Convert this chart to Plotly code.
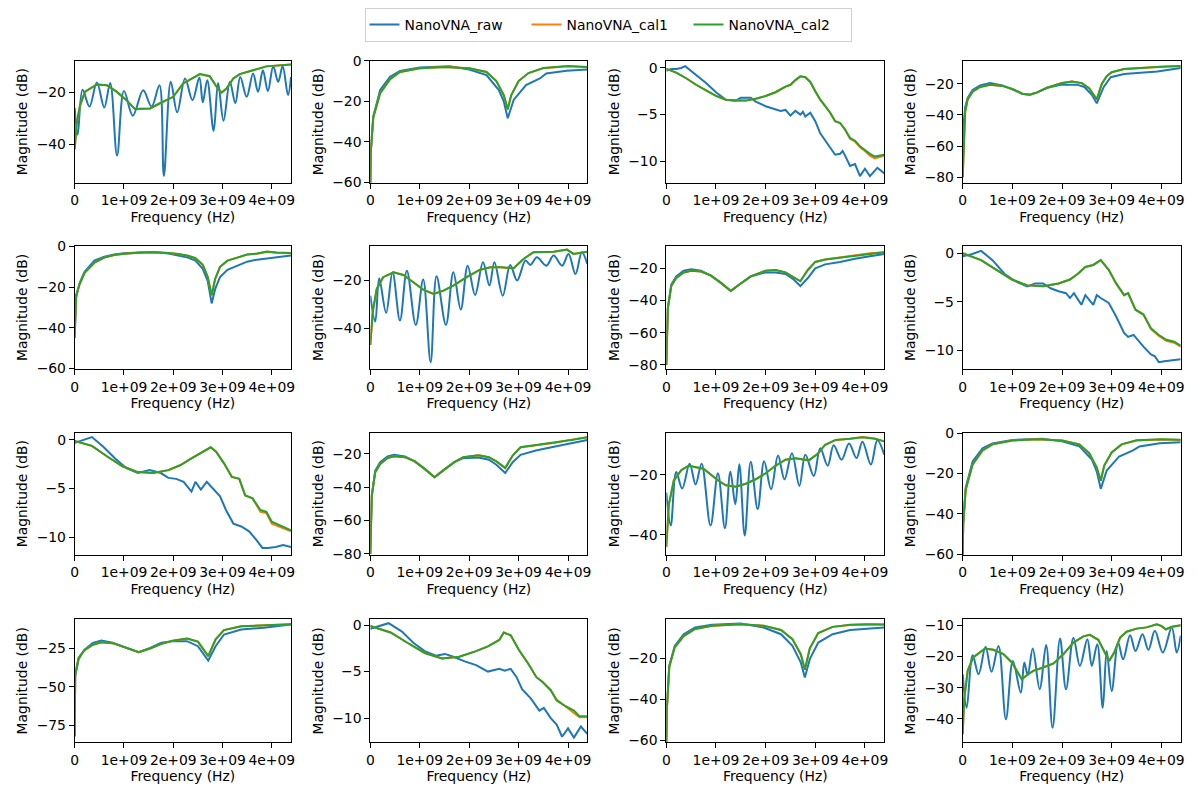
import plotly.graph_objects as go

# ---------------- data (frequency in GHz, magnitude in dB) ----------------
TICK_F_HZ = [0, 1e9, 2e9, 3e9, 4e9]
TICK_F_TXT = ["0", "1e+09", "2e+09", "3e+09", "4e+09"]
SERIES = ["NanoVNA_raw", "NanoVNA_cal1", "NanoVNA_cal2"]
COLORS = ["#1f77b4", "#ff7f0e", "#2ca02c"]

# (0,0)
p00_raw_f = [0, 0.06, 0.16, 0.30, 0.45, 0.60, 0.72, 0.86, 1.00, 1.18, 1.39, 1.56, 1.72, 1.81, 1.95, 2.08, 2.24, 2.39, 2.53, 2.60, 2.69, 2.82, 2.91, 3.02, 3.15, 3.26, 3.36, 3.49, 3.62, 3.72, 3.82, 3.92, 4.03, 4.13, 4.22, 4.33, 4.39]
p00_raw = [-26, -36.4, -19, -25.5, -16.2, -25.8, -16.3, -44.5, -19.4, -29, -19.2, -25.5, -17.2, -52.4, -15.9, -27.7, -14.6, -23, -14.2, -23.8, -15.3, -34.9, -16.3, -31, -15.9, -24.2, -14, -21.7, -12.7, -19.7, -11.4, -19.5, -9.9, -15.9, -9.9, -21, -14]
p00_cal_f = [0, 0.04, 0.11, 0.21, 0.45, 0.65, 0.85, 1.05, 1.22, 1.53, 1.73, 2.0, 2.2, 2.4, 2.54, 2.74, 2.88, 2.98, 3.08, 3.22, 3.35, 3.62, 3.89, 4.39]
p00_cal2 = [-42, -32, -24.9, -19.7, -16.9, -17.2, -19.7, -23, -26.4, -26.2, -24.2, -21.7, -16.5, -14.2, -12.9, -13.7, -17.8, -20.1, -18.5, -14.6, -12.9, -11.4, -9.9, -9.2]
p00_cal1 = [-42, -32, -24.9, -19.7, -16.9, -17.2, -19.7, -23, -26.4, -26.2, -24.2, -21.7, -16.5, -14.2, -12.9, -13.7, -17.8, -20.1, -18.5, -14.6, -12.9, -11.4, -9.9, -9.2]

# (0,1)
p01_raw_f = [0, 0.01, 0.06, 0.2, 0.4, 0.6, 1.0, 1.6, 2.0, 2.35, 2.6, 2.7, 2.78, 2.9, 3.15, 3.43, 3.56, 3.97, 4.39]
p01_raw = [-62, -45, -27.5, -14.4, -7.9, -5, -3.3, -2.6, -4.3, -7, -14.4, -20, -28.4, -19.3, -12, -8.7, -6.2, -4.9, -4.3]
p01_cal_f = [0, 0.01, 0.06, 0.2, 0.4, 0.6, 1.0, 1.5, 2.0, 2.35, 2.55, 2.7, 2.78, 2.85, 3.0, 3.2, 3.5, 4.0, 4.39]
p01_cal2 = [-62, -45, -28, -16, -9, -5.5, -3.6, -3, -3.6, -5.5, -10, -17, -24, -17, -10, -6, -3.5, -2.5, -3]
p01_cal1 = [-62, -45, -28, -16, -9, -5.5, -3.6, -3, -3.6, -5.5, -10, -17, -24, -17, -10, -6, -3.6, -2.7, -3.1]

# (0,2)
p02_raw_f = [0, 0.1, 0.2, 0.3, 0.38, 0.5, 0.6, 0.8, 1.0, 1.2, 1.4, 1.5, 1.7, 1.8, 2.0, 2.2, 2.3, 2.4, 2.5, 2.6, 2.7, 2.75, 2.8, 2.9, 3.0, 3.1, 3.2, 3.3, 3.4, 3.5, 3.55, 3.6, 3.7, 3.8, 3.9, 4.0, 4.1, 4.25, 4.39]
p02_raw = [-0.3, -0.1, -0.1, 0.0, 0.2, -0.3, -0.7, -1.6, -2.6, -3.4, -3.5, -3.2, -3.2, -3.6, -4.1, -4.4, -4.6, -4.5, -5.1, -4.6, -5.0, -4.7, -5.2, -4.8, -5.7, -7.0, -7.8, -8.6, -9.3, -9.2, -8.9, -9.4, -10.5, -10.3, -11.6, -10.8, -11.6, -10.7, -11.3]
p02_cal_f = [0, 0.2, 0.4, 0.6, 0.8, 1.0, 1.2, 1.4, 1.6, 1.8, 2.0, 2.2, 2.4, 2.5, 2.6, 2.7, 2.8, 2.9, 3.0, 3.1, 3.2, 3.3, 3.4, 3.5, 3.6, 3.7, 3.8, 3.9, 4.0, 4.1, 4.2, 4.3, 4.39]
p02_cal2 = [-0.1, -0.5, -1.1, -1.8, -2.4, -3.0, -3.4, -3.5, -3.5, -3.3, -3.0, -2.6, -2.0, -1.8, -1.3, -0.9, -1.0, -1.5, -2.5, -3.4, -4.1, -4.8, -5.7, -5.9, -6.6, -7.5, -7.8, -8.4, -8.8, -9.2, -9.5, -9.4, -9.3]
p02_cal1 = [-0.1, -0.5, -1.1, -1.8, -2.4, -3.0, -3.4, -3.5, -3.5, -3.3, -3.0, -2.6, -2.0, -1.8, -1.3, -0.9, -1.0, -1.5, -2.5, -3.4, -4.1, -4.8, -5.7, -5.9, -6.6, -7.6, -7.9, -8.5, -8.9, -9.4, -9.7, -9.5, -9.4]

# (0,3)
p03_raw_f = [0, 0.02, 0.05, 0.1, 0.2, 0.35, 0.55, 0.8, 1.0, 1.2, 1.35, 1.5, 1.7, 2.0, 2.3, 2.45, 2.6, 2.7, 2.84, 2.98, 3.25, 3.65, 3.92, 4.39]
p03_raw = [-80, -45, -35, -29, -24, -21, -19.4, -21, -23.5, -26.5, -27, -25.5, -22.5, -20.5, -20.5, -22, -27, -32.5, -22, -15.7, -13.6, -12.6, -12, -9.8]
p03_cal_f = [0, 0.05, 0.1, 0.2, 0.35, 0.55, 0.8, 1.0, 1.2, 1.35, 1.5, 1.7, 2.0, 2.2, 2.4, 2.55, 2.7, 2.8, 2.9, 3.0, 3.25, 3.65, 4.0, 4.39]
p03_cal2 = [-80, -38, -30, -25, -22, -20.6, -21.3, -23.3, -26.3, -27, -25.5, -22.5, -19.5, -18.5, -19.5, -23, -30, -20, -15, -12.5, -10.5, -9.5, -9.0, -8.5]
p03_cal1 = [-80, -38, -30, -25, -22, -20.6, -21.3, -23.3, -26.3, -27, -25.5, -22.5, -19.5, -18.5, -19.5, -23, -30, -20, -15, -12.5, -10.5, -9.5, -9.0, -8.5]

# (1,0)
p10_raw_f = [0, 0.03, 0.1, 0.2, 0.4, 0.6, 0.8, 1.0, 1.3, 1.6, 1.9, 2.1, 2.3, 2.45, 2.6, 2.7, 2.78, 2.85, 2.95, 3.1, 3.3, 3.5, 3.7, 4.0, 4.2, 4.39]
p10_raw = [-45, -25, -18, -12.5, -7, -5, -4, -3.4, -3, -2.8, -3.5, -4.5, -5.5, -7, -11, -17, -28, -21, -15, -11.5, -9.5, -7.5, -6.5, -5.5, -5, -4.5]
p10_cal_f = [0, 0.03, 0.1, 0.2, 0.4, 0.6, 0.8, 1.0, 1.3, 1.6, 1.9, 2.1, 2.3, 2.45, 2.6, 2.7, 2.78, 2.85, 2.95, 3.1, 3.3, 3.5, 3.7, 3.9, 4.1, 4.39]
p10_cal2 = [-42, -24, -18.5, -13, -8, -5.5, -4.2, -3.6, -3.1, -2.9, -3.2, -3.7, -4.6, -5.8, -9, -15, -24, -16, -10, -7, -5.5, -4, -3.5, -2.5, -3, -3.2]
p10_cal1 = [-42, -24, -18.5, -13, -8, -5.5, -4.2, -3.6, -3.1, -2.9, -3.2, -3.7, -4.6, -5.8, -9, -15, -24, -16, -10, -7, -5.5, -4, -3.6, -2.7, -3.1, -3.3]

# (1,1)
p11_raw_f = [0, 0.1, 0.18, 0.32, 0.45, 0.6, 0.74, 0.92, 1.07, 1.22, 1.34, 1.53, 1.68, 1.83, 1.97, 2.12, 2.28, 2.41, 2.51, 2.68, 2.83, 2.97, 3.14, 3.24, 3.37, 3.56, 3.71, 3.88, 4.01, 4.15, 4.28, 4.39]
p11_raw = [-26.4, -37.2, -19.2, -33.6, -16.7, -36.8, -16.0, -38.6, -19.7, -54.2, -18.3, -38.6, -16.7, -32.2, -13.9, -26.1, -12.5, -22.2, -12.5, -26.4, -13.6, -20.1, -11.8, -13.6, -10.4, -13.9, -9.7, -13.9, -9.0, -17.4, -8.3, -13.2]
p11_cal_f = [0, 0.05, 0.13, 0.26, 0.47, 0.67, 0.87, 1.07, 1.28, 1.48, 1.68, 1.95, 2.22, 2.43, 2.63, 2.9, 3.1, 3.3, 3.71, 3.98, 4.11, 4.39]
p11_cal2 = [-47, -33, -23.6, -18.7, -16.7, -17.8, -20.8, -23.9, -25.7, -24.3, -22.2, -18.7, -15.6, -14.6, -14.6, -15.0, -11.1, -8.3, -8.1, -7.2, -9.0, -8.1]
p11_cal1 = [-47, -33, -23.6, -18.7, -16.7, -17.8, -20.8, -23.9, -25.7, -24.3, -22.2, -18.7, -15.6, -14.6, -14.6, -15.0, -11.1, -8.3, -8.1, -7.2, -9.0, -8.1]

# (1,2)
p12_raw_f = [0, 0.03, 0.1, 0.2, 0.35, 0.5, 0.7, 0.9, 1.1, 1.3, 1.45, 1.7, 2.0, 2.2, 2.4, 2.55, 2.7, 2.85, 3.0, 3.2, 3.5, 3.8, 4.1, 4.39]
p12_raw = [-80, -45, -30, -25, -21.5, -20.5, -21.5, -24.5, -29, -34, -30.5, -25, -22.5, -22.5, -23.5, -26.5, -31, -26, -20, -17.5, -16, -14, -12.5, -11]
p12_cal_f = [0, 0.03, 0.1, 0.2, 0.35, 0.5, 0.7, 0.9, 1.1, 1.3, 1.45, 1.7, 2.0, 2.2, 2.4, 2.55, 2.7, 2.85, 3.0, 3.2, 3.5, 3.8, 4.1, 4.39]
p12_cal2 = [-80, -45, -31, -26, -22.5, -21.5, -22, -24.5, -29, -34, -30.5, -25, -21.5, -21, -22.5, -25, -28, -21, -16, -14.5, -13.3, -12, -10.8, -10]
p12_cal1 = [-80, -45, -31, -26, -22.5, -21.5, -22, -24.5, -29, -34, -30.5, -25, -21.5, -21, -22.5, -25, -28, -21, -16, -14.5, -13.3, -12, -10.6, -10]

# (1,3)
p13_raw_f = [0, 0.18, 0.37, 0.6, 0.84, 1.07, 1.3, 1.46, 1.62, 1.77, 1.93, 2.08, 2.16, 2.24, 2.39, 2.47, 2.63, 2.7, 2.78, 2.94, 3.09, 3.25, 3.33, 3.44, 3.64, 3.79, 3.87, 3.95, 4.06, 4.18, 4.39]
p13_raw = [-0.3, -0.1, 0.25, -0.7, -2.1, -2.9, -3.4, -3.1, -3.1, -3.6, -3.9, -4.1, -4.6, -4.1, -5.3, -4.3, -5.3, -4.3, -4.6, -5.1, -6.5, -8.2, -8.6, -8.4, -9.6, -10.4, -10.6, -11.2, -11.1, -11.0, -10.9]
p13_cal_f = [0, 0.37, 0.68, 0.99, 1.3, 1.62, 1.93, 2.16, 2.32, 2.47, 2.63, 2.78, 2.94, 3.09, 3.25, 3.33, 3.48, 3.64, 3.79, 3.95, 4.1, 4.26, 4.39]
p13_cal2 = [0, -0.7, -1.7, -2.7, -3.3, -3.4, -3.1, -2.7, -2.1, -1.4, -1.2, -0.7, -1.7, -3.1, -4.3, -4.1, -5.8, -6.3, -7.7, -8.4, -8.9, -9.1, -9.5]
p13_cal1 = [0, -0.7, -1.7, -2.7, -3.3, -3.4, -3.1, -2.7, -2.1, -1.4, -1.2, -0.7, -1.7, -3.1, -4.3, -4.1, -5.8, -6.3, -7.8, -8.5, -9.0, -9.2, -9.6]

# (2,0)
p20_raw_f = [0, 0.19, 0.35, 0.58, 0.82, 1.05, 1.28, 1.52, 1.75, 1.9, 2.06, 2.21, 2.37, 2.45, 2.56, 2.68, 2.8, 2.95, 3.07, 3.22, 3.38, 3.54, 3.69, 3.81, 3.92, 4.08, 4.23, 4.39]
p20_raw = [-0.3, 0.0, 0.3, -0.7, -1.9, -2.9, -3.4, -3.1, -3.4, -3.9, -4.0, -4.3, -5.3, -4.3, -5.1, -4.3, -5.0, -5.8, -7.2, -8.6, -8.9, -9.4, -10.3, -11.1, -11.1, -11.0, -10.8, -11.0]
p20_cal_f = [0, 0.35, 0.66, 0.97, 1.28, 1.59, 1.9, 2.14, 2.37, 2.53, 2.76, 2.87, 3.03, 3.19, 3.34, 3.46, 3.61, 3.77, 3.89, 4.0, 4.16, 4.39]
p20_cal2 = [-0.1, -0.6, -1.7, -2.7, -3.3, -3.4, -3.1, -2.6, -1.9, -1.4, -0.75, -1.2, -2.4, -3.8, -4.0, -5.7, -6.0, -7.2, -7.4, -8.4, -8.8, -9.3]
p20_cal1 = [-0.1, -0.6, -1.7, -2.7, -3.3, -3.4, -3.1, -2.6, -1.9, -1.4, -0.75, -1.2, -2.4, -3.8, -4.0, -5.7, -6.0, -7.4, -7.5, -8.6, -8.9, -9.4]

# (2,1)
p21_raw_f = [0, 0.03, 0.1, 0.2, 0.35, 0.48, 0.7, 0.9, 1.1, 1.3, 1.45, 1.7, 1.88, 2.19, 2.4, 2.55, 2.73, 2.88, 3.04, 3.35, 3.74, 4.1, 4.39]
p21_raw = [-80, -45, -30, -25, -21.5, -20.6, -21.5, -24.5, -29, -34, -30.5, -25, -22.6, -22.2, -23.5, -26.5, -31.5, -25, -20.6, -18, -15.6, -13.5, -11.7]
p21_cal_f = [0, 0.03, 0.1, 0.2, 0.35, 0.48, 0.7, 0.9, 1.1, 1.3, 1.45, 1.7, 1.88, 2.19, 2.4, 2.55, 2.73, 2.88, 3.04, 3.35, 3.74, 4.1, 4.39]
p21_cal2 = [-80, -45, -31, -26, -22.5, -21.5, -22, -24.5, -29, -34, -30.5, -25, -22, -20.8, -22, -24.5, -28.5, -21, -16, -14.7, -13.3, -11.5, -10]
p21_cal1 = [-80, -45, -31, -26, -22.5, -21.5, -22, -24.5, -29, -34, -30.5, -25, -22, -20.8, -22, -24.5, -28.5, -21, -16, -14.7, -13.3, -11.3, -10]

# (2,2)
p22_raw_f = [0, 0.09, 0.2, 0.32, 0.47, 0.59, 0.71, 0.89, 1.04, 1.18, 1.29, 1.39, 1.47, 1.58, 1.7, 1.84, 1.97, 2.11, 2.25, 2.38, 2.53, 2.68, 2.8, 2.97, 3.1, 3.25, 3.37, 3.53, 3.68, 3.83, 3.95, 4.12, 4.25, 4.39]
p22_raw = [-25.9, -36.9, -19.1, -24.6, -16.3, -23.2, -16.3, -36.9, -19.5, -37.8, -19.0, -29.8, -16.5, -40.2, -15.7, -31.4, -15.5, -24.8, -13.6, -21.5, -12.8, -23.7, -13.3, -20.4, -11.2, -17.0, -10.2, -15.0, -9.6, -14.4, -9.0, -16.6, -8.5, -13.3]
p22_cal_f = [0, 0.05, 0.15, 0.3, 0.45, 0.6, 0.75, 0.9, 1.05, 1.2, 1.4, 1.6, 1.8, 2.0, 2.2, 2.4, 2.6, 2.87, 3.05, 3.2, 3.41, 3.7, 3.95, 4.2, 4.39]
p22_cal2 = [-44, -30, -22, -18.5, -17, -17.5, -18, -20, -22, -23.5, -24, -23, -21.5, -19.5, -17, -15, -14.5, -15.2, -13, -10, -8.4, -8, -7.5, -8, -8.9]
p22_cal1 = [-44, -30, -22, -18.5, -17, -17.5, -18, -20, -22, -23.5, -24, -23, -21.5, -19.5, -17, -15, -14.5, -15.2, -13, -10, -8.4, -8, -7.4, -7.9, -8.9]

# (2,3)
p23_raw_f = [0, 0.01, 0.06, 0.2, 0.4, 0.6, 1.0, 1.6, 2.0, 2.35, 2.6, 2.7, 2.78, 2.9, 3.15, 3.43, 3.56, 3.97, 4.39]
p23_raw = [-62, -45, -27, -14, -7.5, -5, -3.3, -2.7, -4.0, -6.5, -13, -19, -27.6, -18.5, -11.5, -8.5, -6.5, -5.0, -4.5]
p23_cal_f = [0, 0.01, 0.06, 0.2, 0.4, 0.6, 1.0, 1.5, 2.0, 2.35, 2.55, 2.7, 2.78, 2.85, 3.0, 3.2, 3.5, 4.0, 4.39]
p23_cal2 = [-62, -45, -28, -15.5, -8.5, -5.5, -3.6, -3, -3.6, -5.5, -10, -17, -23.6, -16, -9.5, -5.5, -3.5, -3, -3.2]
p23_cal1 = [-62, -45, -28, -15.5, -8.5, -5.5, -3.6, -3, -3.6, -5.5, -10, -17, -23.6, -16, -9.5, -5.5, -3.6, -3.1, -3.3]

# (3,0)
p30_raw_f = [0, 0.01, 0.08, 0.2, 0.37, 0.54, 0.77, 1.0, 1.3, 1.53, 1.76, 1.99, 2.28, 2.5, 2.71, 2.86, 3.03, 3.38, 3.84, 4.39]
p30_raw = [-82, -43, -32, -25.7, -21.3, -19.8, -21.3, -24.1, -27.4, -24.6, -21.3, -20.2, -20.2, -23.5, -32.8, -23.5, -15.9, -12.6, -11.5, -9.3]
p30_cal_f = [0, 0.01, 0.08, 0.2, 0.37, 0.54, 0.77, 1.0, 1.3, 1.53, 1.76, 1.99, 2.28, 2.5, 2.71, 2.86, 3.03, 3.38, 3.84, 4.39]
p30_cal2 = [-82, -42, -31, -26, -22.5, -21, -21.5, -24, -27.4, -25, -22, -20, -18.5, -20.5, -30, -19, -13, -10.5, -10, -9.2]
p30_cal1 = [-82, -42, -31, -26, -22.5, -21, -21.5, -24, -27.4, -25, -22, -20, -18.5, -20.5, -30, -19, -13, -10.5, -10, -9.2]

# (3,1)
p31_raw_f = [0, 0.17, 0.37, 0.64, 0.87, 1.1, 1.33, 1.51, 1.68, 1.91, 2.14, 2.38, 2.61, 2.72, 2.84, 2.96, 3.07, 3.25, 3.42, 3.51, 3.65, 3.77, 3.88, 4.0, 4.12, 4.26, 4.39]
p31_raw = [-0.4, -0.1, 0.2, -0.7, -1.9, -2.8, -3.3, -3.1, -3.4, -3.9, -4.3, -5.0, -4.7, -4.9, -4.7, -5.6, -6.9, -7.9, -9.2, -8.9, -10.0, -10.7, -12.0, -11.1, -12.1, -10.9, -11.7]
p31_cal_f = [0, 0.41, 0.75, 1.1, 1.45, 1.8, 2.14, 2.38, 2.61, 2.7, 2.84, 3.01, 3.19, 3.36, 3.48, 3.65, 3.77, 3.94, 4.12, 4.23, 4.39]
p31_cal2 = [-0.1, -0.8, -1.9, -3.0, -3.6, -3.4, -2.8, -2.3, -1.6, -0.8, -1.1, -2.7, -4.1, -5.6, -6.1, -7.0, -8.1, -8.7, -9.2, -9.8, -9.8]
p31_cal1 = [-0.1, -0.8, -1.9, -3.0, -3.6, -3.4, -2.8, -2.3, -1.6, -0.8, -1.1, -2.7, -4.1, -5.6, -6.1, -7.0, -8.0, -8.7, -9.4, -9.9, -9.9]

# (3,2)
p32_raw_f = [0, 0.01, 0.06, 0.17, 0.35, 0.58, 0.92, 1.5, 1.96, 2.31, 2.54, 2.71, 2.79, 2.89, 3.06, 3.35, 3.7, 4.04, 4.39]
p32_raw = [-62, -45, -23.6, -13.8, -8.1, -4.8, -3.5, -2.9, -4.8, -8.1, -13.8, -22, -29.3, -20.3, -12.2, -8.1, -6, -5.3, -4.8]
p32_cal_f = [0, 0.01, 0.06, 0.17, 0.35, 0.58, 0.92, 1.5, 1.96, 2.31, 2.54, 2.71, 2.79, 2.89, 3.06, 3.35, 3.7, 4.04, 4.39]
p32_cal2 = [-62, -45, -24, -14.5, -9, -5.5, -4, -3.2, -4.0, -6, -10.5, -18, -25.5, -15, -7.5, -4.5, -3.5, -3.2, -3.3]
p32_cal1 = [-62, -45, -24, -14.5, -9, -5.5, -4, -3.2, -4.0, -6, -10.5, -18, -25.5, -15, -7.5, -4.5, -3.6, -3.3, -3.4]

# (3,3)
p33_raw_f = [0, 0.08, 0.2, 0.32, 0.46, 0.58, 0.72, 0.87, 1.01, 1.17, 1.24, 1.31, 1.41, 1.55, 1.68, 1.81, 1.96, 2.08, 2.23, 2.36, 2.51, 2.6, 2.71, 2.82, 2.9, 3.0, 3.13, 3.23, 3.37, 3.48, 3.62, 3.74, 3.87, 4.03, 4.21, 4.31, 4.39]
p33_raw = [-25.7, -36.5, -19.6, -25.7, -16.8, -24.9, -16.6, -40.2, -21.4, -31.6, -21.9, -26, -17.4, -30.5, -16.3, -42.9, -14.2, -30.5, -13.9, -23, -14.4, -23, -16, -36.5, -18.2, -31.1, -15.5, -20.9, -13.1, -18.2, -12.8, -17.8, -11.7, -18.7, -10.6, -18.7, -13.3]
p33_cal_f = [0, 0.03, 0.1, 0.21, 0.45, 0.62, 0.82, 0.99, 1.09, 1.19, 1.29, 1.42, 1.62, 1.83, 2.03, 2.23, 2.43, 2.56, 2.73, 2.87, 2.95, 3.05, 3.17, 3.3, 3.5, 3.7, 3.91, 4.01, 4.09, 4.21, 4.39]
p33_cal2 = [-45, -33.8, -24.6, -20.3, -17.4, -17.8, -19.2, -21.9, -24.6, -27.3, -26, -24.6, -23.5, -22.2, -19.2, -15.5, -13.5, -13.0, -14.6, -18.7, -21.4, -18.7, -13.9, -12.0, -11.0, -10.6, -9.6, -10.2, -11.2, -10.4, -9.9]
p33_cal1 = [-45, -33.8, -24.6, -20.3, -17.4, -17.8, -19.2, -21.9, -24.6, -27.3, -26, -24.6, -23.5, -22.2, -19.2, -15.5, -13.5, -13.0, -14.6, -18.7, -21.4, -18.7, -13.9, -12.0, -11.0, -10.6, -9.6, -10.3, -11.3, -10.5, -9.9]

# y-axis ranges and ticks per panel
Y_RANGES = {
    (0, 0): [-55, -7.7], (0, 1): [-60.3, 0.1], (0, 2): [-12.3, 0.78], (0, 3): [-83.6, -5.1],
    (1, 0): [-60.2, 0.2], (1, 1): [-57, -5.7], (1, 2): [-82.5, -6.1], (1, 3): [-11.9, 0.75],
    (2, 0): [-11.8, 0.75], (2, 1): [-80.5, -7.3], (2, 2): [-46.6, -6.0], (2, 3): [-60.3, 0.3],
    (3, 0): [-86, -6], (3, 1): [-12.6, 0.62], (3, 2): [-61, -0.8], (3, 3): [-47.6, -8.0],
}
Y_TICKS = {
    (0, 0): [-40, -20], (0, 1): [-60, -40, -20, 0], (0, 2): [-10, -5, 0], (0, 3): [-80, -60, -40, -20],
    (1, 0): [-60, -40, -20, 0], (1, 1): [-40, -20], (1, 2): [-80, -60, -40, -20], (1, 3): [-10, -5, 0],
    (2, 0): [-10, -5, 0], (2, 1): [-80, -60, -40, -20], (2, 2): [-40, -20], (2, 3): [-60, -40, -20, 0],
    (3, 0): [-75, -50, -25], (3, 1): [-10, -5, 0], (3, 2): [-60, -40, -20], (3, 3): [-40, -30, -20, -10],
}

PANELS = {
    (0, 0): (p00_raw_f, p00_raw, p00_cal_f, p00_cal1, p00_cal2),
    (0, 1): (p01_raw_f, p01_raw, p01_cal_f, p01_cal1, p01_cal2),
    (0, 2): (p02_raw_f, p02_raw, p02_cal_f, p02_cal1, p02_cal2),
    (0, 3): (p03_raw_f, p03_raw, p03_cal_f, p03_cal1, p03_cal2),
    (1, 0): (p10_raw_f, p10_raw, p10_cal_f, p10_cal1, p10_cal2),
    (1, 1): (p11_raw_f, p11_raw, p11_cal_f, p11_cal1, p11_cal2),
    (1, 2): (p12_raw_f, p12_raw, p12_cal_f, p12_cal1, p12_cal2),
    (1, 3): (p13_raw_f, p13_raw, p13_cal_f, p13_cal1, p13_cal2),
    (2, 0): (p20_raw_f, p20_raw, p20_cal_f, p20_cal1, p20_cal2),
    (2, 1): (p21_raw_f, p21_raw, p21_cal_f, p21_cal1, p21_cal2),
    (2, 2): (p22_raw_f, p22_raw, p22_cal_f, p22_cal1, p22_cal2),
    (2, 3): (p23_raw_f, p23_raw, p23_cal_f, p23_cal1, p23_cal2),
    (3, 0): (p30_raw_f, p30_raw, p30_cal_f, p30_cal1, p30_cal2),
    (3, 1): (p31_raw_f, p31_raw, p31_cal_f, p31_cal1, p31_cal2),
    (3, 2): (p32_raw_f, p32_raw, p32_cal_f, p32_cal1, p32_cal2),
    (3, 3): (p33_raw_f, p33_raw, p33_cal_f, p33_cal1, p33_cal2),
}
# reflection panels (rippled raw traces drawn smooth)
RIPPLE = {(0, 0), (1, 1), (2, 2), (3, 3)}

# ---------------- layout geometry (pixels in the 1200x800 page) ----------------
W, H = 1200, 800
OFF = 8  # the page body margin offsets the figure by 8 px
COL_PX = [(74.7, 291.0), (370.3, 587.3), (666.3, 884.3), (962.7, 1180.7)]
ROW_PX = [(60.7, 182.7), (246.0, 369.0), (432.7, 554.7), (619.3, 742.3)]
FONT = "DejaVu Sans"
FS = 13.9


def fmt(v):
    return ("%g" % v).replace("-", "\u2212")


fig = go.Figure()
layout = dict(
    width=W, height=H, margin=dict(l=0, r=0, t=0, b=0),
    paper_bgcolor="white", plot_bgcolor="white", template="none",
    font=dict(family=FONT, size=FS, color="black"),
    showlegend=True,
    legend=dict(orientation="h", x=0.5, xanchor="center", y=1.0, yanchor="top",
                bgcolor="white", bordercolor="#d0d0d0", borderwidth=1,
                font=dict(family=FONT, size=FS), entrywidth=117, entrywidthmode="pixels",
                tracegroupgap=0),
)

idx = 0
for r in range(4):
    for c in range(4):
        idx += 1
        sfx = "" if idx == 1 else str(idx)
        raw_f, raw, cal_f, cal1, cal2 = PANELS[(r, c)]
        xs = [[f * 1e9 for f in raw_f], [f * 1e9 for f in cal_f], [f * 1e9 for f in cal_f]]
        ys = [raw, cal1, cal2]
        for k in range(3):
            shape = "spline" if (k == 0 and (r, c) in RIPPLE) else "linear"
            fig.add_trace(go.Scatter(
                x=xs[k], y=ys[k], mode="lines", name=SERIES[k],
                line=dict(color=COLORS[k], width=2, shape=shape, smoothing=1.0),
                xaxis="x" + sfx, yaxis="y" + sfx,
                showlegend=(idx == 1), legendgroup=SERIES[k],
            ))
        x0, x1 = COL_PX[c][0] - OFF, COL_PX[c][1] - OFF
        y0, y1 = ROW_PX[r][0] - OFF, ROW_PX[r][1] - OFF
        common = dict(showline=True, mirror=True, linecolor="black", linewidth=1.1,
                      ticks="outside", ticklen=4.9, tickwidth=1.1, tickcolor="black",
                      showgrid=False, zeroline=False, automargin=False,
                      tickfont=dict(family=FONT, size=FS, color="black"))
        layout["xaxis" + sfx] = dict(
            domain=[x0 / W, x1 / W], anchor="y" + sfx, range=[0, 4.39e9],
            tickvals=TICK_F_HZ, ticktext=TICK_F_TXT,
            title=dict(text="Frequency (Hz)", standoff=4, font=dict(family=FONT, size=FS)),
            **common)
        yt = Y_TICKS[(r, c)]
        layout["yaxis" + sfx] = dict(
            domain=[1 - y1 / H, 1 - y0 / H], anchor="x" + sfx, range=Y_RANGES[(r, c)],
            tickvals=yt, ticktext=[fmt(v) for v in yt],
            title=dict(text="Magnitude (dB)", standoff=5, font=dict(family=FONT, size=FS)),
            **common)

fig.update_layout(**layout)
fig.write_html("out.html")
